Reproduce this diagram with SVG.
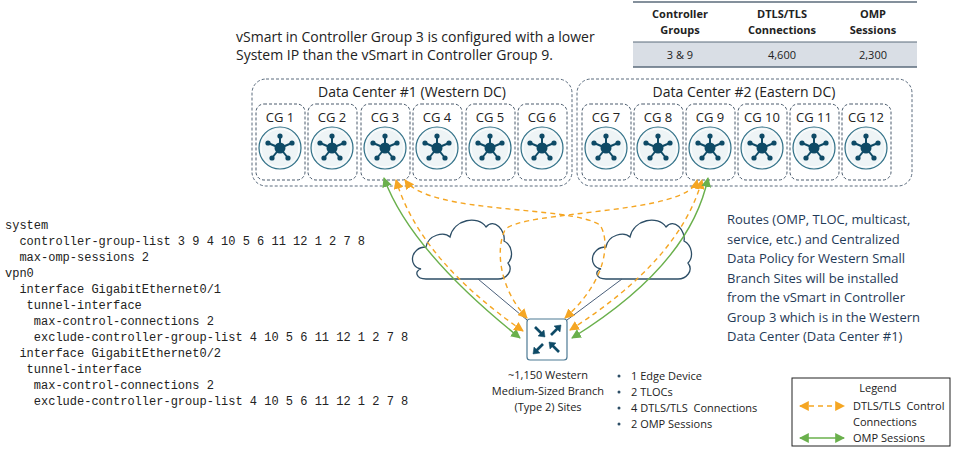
<svg xmlns="http://www.w3.org/2000/svg" width="963" height="454" viewBox="0 0 963 454">
<style>
text{font-family:"Open Sans","Liberation Sans",sans-serif;fill:#222}
.dc{fill:#fff;stroke:#5a6b7d;stroke-dasharray:3 2;stroke-width:1}
.cg{fill:#fff;stroke:#4a5b6d;stroke-dasharray:3 2;stroke-width:1}
.lbl{font-size:13px;text-anchor:middle}
.code{font-family:"Liberation Mono",monospace;font-size:12px}
.or{fill:none;stroke:#f5a623;stroke-width:1.4;stroke-dasharray:5 4;marker-end:url(#ao)}
.gr{fill:none;stroke:#6ab04c;stroke-width:1.4;marker-end:url(#ag)}
.rt{font-size:13px;fill:#1f3a57}
.sm{font-size:11px}
</style>
<defs>
<marker id="ao" viewBox="0 0 10 10" refX="9" refY="5" markerWidth="7" markerHeight="7" orient="auto-start-reverse"><path d="M0,0L10,5L0,10z" fill="#f5a623"/></marker>
<marker id="ag" viewBox="0 0 10 10" refX="9" refY="5" markerWidth="7" markerHeight="7" orient="auto-start-reverse"><path d="M0,0L10,5L0,10z" fill="#6ab04c"/></marker>
<g id="hub">
<circle r="21" fill="#eef4f6" stroke="#2f6f86" stroke-width="1.2"/>
<circle r="19" fill="none" stroke="#fff" stroke-width="1"/>
<g stroke="#0e4a66" stroke-width="2">
<line x1="0" y1="0" x2="0" y2="-12"/><line x1="0" y1="0" x2="-12" y2="-5"/><line x1="0" y1="0" x2="12" y2="-5"/><line x1="0" y1="0" x2="-8" y2="10"/><line x1="0" y1="0" x2="8" y2="10"/>
</g>
<g fill="#0e4a66"><circle r="5.5"/><circle cy="-12" r="2.6"/><circle cx="-12" cy="-5" r="2.6"/><circle cx="12" cy="-5" r="2.6"/><circle cx="-8" cy="10" r="2.6"/><circle cx="8" cy="10" r="2.6"/></g>
</g>
<path id="cloud" d="M5,54 C-8,52 -6,32 10,32 C12,20 28,16 34,22 C38,4 62,0 70,12 C78,2 90,16 88,26 C96,30 98,42 92,48 C98,56 90,64 82,64 L10,64 C0,64 -2,56 5,54 Z" fill="#fff" stroke="#2d4e66" stroke-width="1.3"/>
</defs>

<text x="236" y="42" style="font-size:14px">vSmart in Controller Group 3 is configured with a lower</text>
<text x="236" y="60" style="font-size:14px">System IP than the vSmart in Controller Group 9.</text>

<g id="table">
<rect x="633" y="42" width="284" height="25" fill="#d9dee5"/>
<line x1="633" y1="2" x2="917" y2="2" stroke="#5b6b7b" stroke-width="1.5"/>
<line x1="633" y1="42" x2="917" y2="42" stroke="#5b6b7b" stroke-width="1"/>
<line x1="633" y1="67" x2="917" y2="67" stroke="#5b6b7b" stroke-width="1.5"/>
<g style="font-size:11px;font-weight:bold;text-anchor:middle">
<text x="680" y="18">Controller</text><text x="680" y="34">Groups</text>
<text x="782" y="18">DTLS/TLS</text><text x="782" y="34">Connections</text>
<text x="873" y="18">OMP</text><text x="873" y="34">Sessions</text>
</g>
<g style="font-size:11px;text-anchor:middle">
<text x="680" y="59">3 &amp; 9</text><text x="782" y="59">4,600</text><text x="873" y="59">2,300</text>
</g>
</g>

<g id="dc1">
<rect class="dc" x="252" y="79" width="320" height="107" rx="14"/>
<text class="lbl" x="412" y="97" style="font-size:14px">Data Center #1 (Western DC)</text>
</g>
<g id="dc2">
<rect class="dc" x="577" y="79" width="335" height="107" rx="14"/>
<text class="lbl" x="744" y="97" style="font-size:14px">Data Center #2 (Eastern DC)</text>
</g>

<g id="cg1"><rect class="cg" x="256" y="104" width="49" height="76" rx="8"/><text class="lbl" x="280" y="122">CG 1</text><use href="#hub" x="280" y="148"/></g>
<g id="cg2"><rect class="cg" x="308" y="104" width="49" height="76" rx="8"/><text class="lbl" x="332" y="122">CG 2</text><use href="#hub" x="332" y="148"/></g>
<g id="cg3"><rect class="cg" x="361" y="104" width="49" height="76" rx="8"/><text class="lbl" x="385" y="122">CG 3</text><use href="#hub" x="385" y="148"/></g>
<g id="cg4"><rect class="cg" x="413" y="104" width="49" height="76" rx="8"/><text class="lbl" x="437" y="122">CG 4</text><use href="#hub" x="437" y="148"/></g>
<g id="cg5"><rect class="cg" x="466" y="104" width="49" height="76" rx="8"/><text class="lbl" x="490" y="122">CG 5</text><use href="#hub" x="490" y="148"/></g>
<g id="cg6"><rect class="cg" x="518" y="104" width="49" height="76" rx="8"/><text class="lbl" x="542" y="122">CG 6</text><use href="#hub" x="542" y="148"/></g>
<g id="cg7"><rect class="cg" x="582" y="104" width="49" height="76" rx="8"/><text class="lbl" x="606" y="122">CG 7</text><use href="#hub" x="606" y="148"/></g>
<g id="cg8"><rect class="cg" x="634" y="104" width="49" height="76" rx="8"/><text class="lbl" x="658" y="122">CG 8</text><use href="#hub" x="658" y="148"/></g>
<g id="cg9"><rect class="cg" x="686" y="104" width="49" height="76" rx="8"/><text class="lbl" x="710" y="122">CG 9</text><use href="#hub" x="710" y="148"/></g>
<g id="cg10"><rect class="cg" x="738" y="104" width="49" height="76" rx="8"/><text class="lbl" x="762" y="122">CG 10</text><use href="#hub" x="762" y="148"/></g>
<g id="cg11"><rect class="cg" x="790" y="104" width="49" height="76" rx="8"/><text class="lbl" x="814" y="122">CG 11</text><use href="#hub" x="814" y="148"/></g>
<g id="cg12"><rect class="cg" x="842" y="104" width="49" height="76" rx="8"/><text class="lbl" x="866" y="122">CG 12</text><use href="#hub" x="866" y="148"/></g>

<g id="cloud1"><use href="#cloud" x="416" y="215"/></g>
<g id="cloud2"><use href="#cloud" x="596" y="215"/></g>

<g id="connectors">
<line x1="478" y1="279" x2="527" y2="320" stroke="#4a5f7a" stroke-width="1"/>
<line x1="622" y1="279" x2="567" y2="320" stroke="#4a5f7a" stroke-width="1"/>
<path class="gr" d="M520,338 Q410,250 384,178" marker-start="url(#ag)"/>
<path class="or" d="M523,331 Q420,260 396,180" marker-start="url(#ao)"/>
<path class="or" d="M565,318 C608,280 610,240 600,225 C570,205 430,215 405,180" marker-start="url(#ao)"/>
<path class="or" d="M527,318 C500,290 495,250 505,230 C520,210 690,215 697,180" marker-start="url(#ao)"/>
<path class="or" d="M570,330 Q680,260 702,180" marker-start="url(#ao)"/>
<path class="gr" d="M572,338 Q690,265 708,178" marker-start="url(#ag)"/>
</g>

<g id="router">
<rect x="527" y="319" width="40" height="41" rx="3" fill="#fff" stroke="#4d7a94" stroke-width="1.2"/>
<g stroke="#0e4a66" stroke-width="2.6" fill="#0e4a66">
<line x1="535" y1="327" x2="543" y2="335"/><path d="M545,337l-7,-1l6,-6z" stroke-width="0.5"/>
<line x1="559" y1="327" x2="551" y2="335"/><path d="M561,325l-7,1l6,6z" stroke-width="0.5"/>
<line x1="543" y1="344" x2="535" y2="352"/><path d="M533,354l1,-7l6,6z" stroke-width="0.5"/>
<line x1="551" y1="344" x2="559" y2="352"/><path d="M549,342l7,1l-6,6z" stroke-width="0.5"/>
</g>
</g>

<g id="code">
<text class="code" x="5" y="229">system</text>
<text class="code" x="5" y="245" xml:space="preserve">  controller-group-list 3 9 4 10 5 6 11 12 1 2 7 8</text>
<text class="code" x="5" y="261" xml:space="preserve">  max-omp-sessions 2</text>
<text class="code" x="5" y="277">vpn0</text>
<text class="code" x="5" y="293" xml:space="preserve">  interface GigabitEthernet0/1</text>
<text class="code" x="5" y="309" xml:space="preserve">   tunnel-interface</text>
<text class="code" x="5" y="325" xml:space="preserve">    max-control-connections 2</text>
<text class="code" x="5" y="341" xml:space="preserve">    exclude-controller-group-list 4 10 5 6 11 12 1 2 7 8</text>
<text class="code" x="5" y="357" xml:space="preserve">  interface GigabitEthernet0/2</text>
<text class="code" x="5" y="373" xml:space="preserve">   tunnel-interface</text>
<text class="code" x="5" y="389" xml:space="preserve">    max-control-connections 2</text>
<text class="code" x="5" y="405" xml:space="preserve">    exclude-controller-group-list 4 10 5 6 11 12 1 2 7 8</text>
</g>

<g id="routes-note">
<text class="rt" x="727" y="224">Routes (OMP, TLOC, multicast,</text>
<text class="rt" x="727" y="244">service, etc.) and Centralized</text>
<text class="rt" x="727" y="263">Data Policy for Western Small</text>
<text class="rt" x="727" y="283">Branch Sites will be installed</text>
<text class="rt" x="727" y="302">from the vSmart in Controller</text>
<text class="rt" x="727" y="322">Group 3 which is in the Western</text>
<text class="rt" x="727" y="341">Data Center (Data Center #1)</text>
</g>

<g id="site-label">
<text class="sm" x="548" y="379" text-anchor="middle">~1,150 Western</text>
<text class="sm" x="548" y="395" text-anchor="middle">Medium-Sized Branch</text>
<text class="sm" x="548" y="411" text-anchor="middle">(Type 2) Sites</text>
</g>
<g id="bullets">
<g fill="#2d4e66"><circle cx="619" cy="376" r="1.5"/><circle cx="619" cy="392" r="1.5"/><circle cx="619" cy="408" r="1.5"/><circle cx="619" cy="424" r="1.5"/></g>
<text class="sm" x="631" y="380">1 Edge Device</text>
<text class="sm" x="631" y="396">2 TLOCs</text>
<text class="sm" x="631" y="412" xml:space="preserve">4 DTLS/TLS  Connections</text>
<text class="sm" x="631" y="428">2 OMP Sessions</text>
</g>

<g id="legend">
<rect x="792" y="378" width="158" height="68" fill="#fff" stroke="#222" stroke-width="1"/>
<text class="sm" x="878" y="392" text-anchor="middle">Legend</text>
<line x1="800" y1="406" x2="844" y2="406" stroke="#f5a623" stroke-width="1.4" stroke-dasharray="5 4" marker-start="url(#ao)" marker-end="url(#ao)"/>
<line x1="800" y1="438" x2="844" y2="438" stroke="#6ab04c" stroke-width="1.4" marker-start="url(#ag)" marker-end="url(#ag)"/>
<text class="sm" x="853" y="410" xml:space="preserve">DTLS/TLS  Control</text>
<text class="sm" x="853" y="426">Connections</text>
<text class="sm" x="853" y="442">OMP Sessions</text>
</g>
</svg>
